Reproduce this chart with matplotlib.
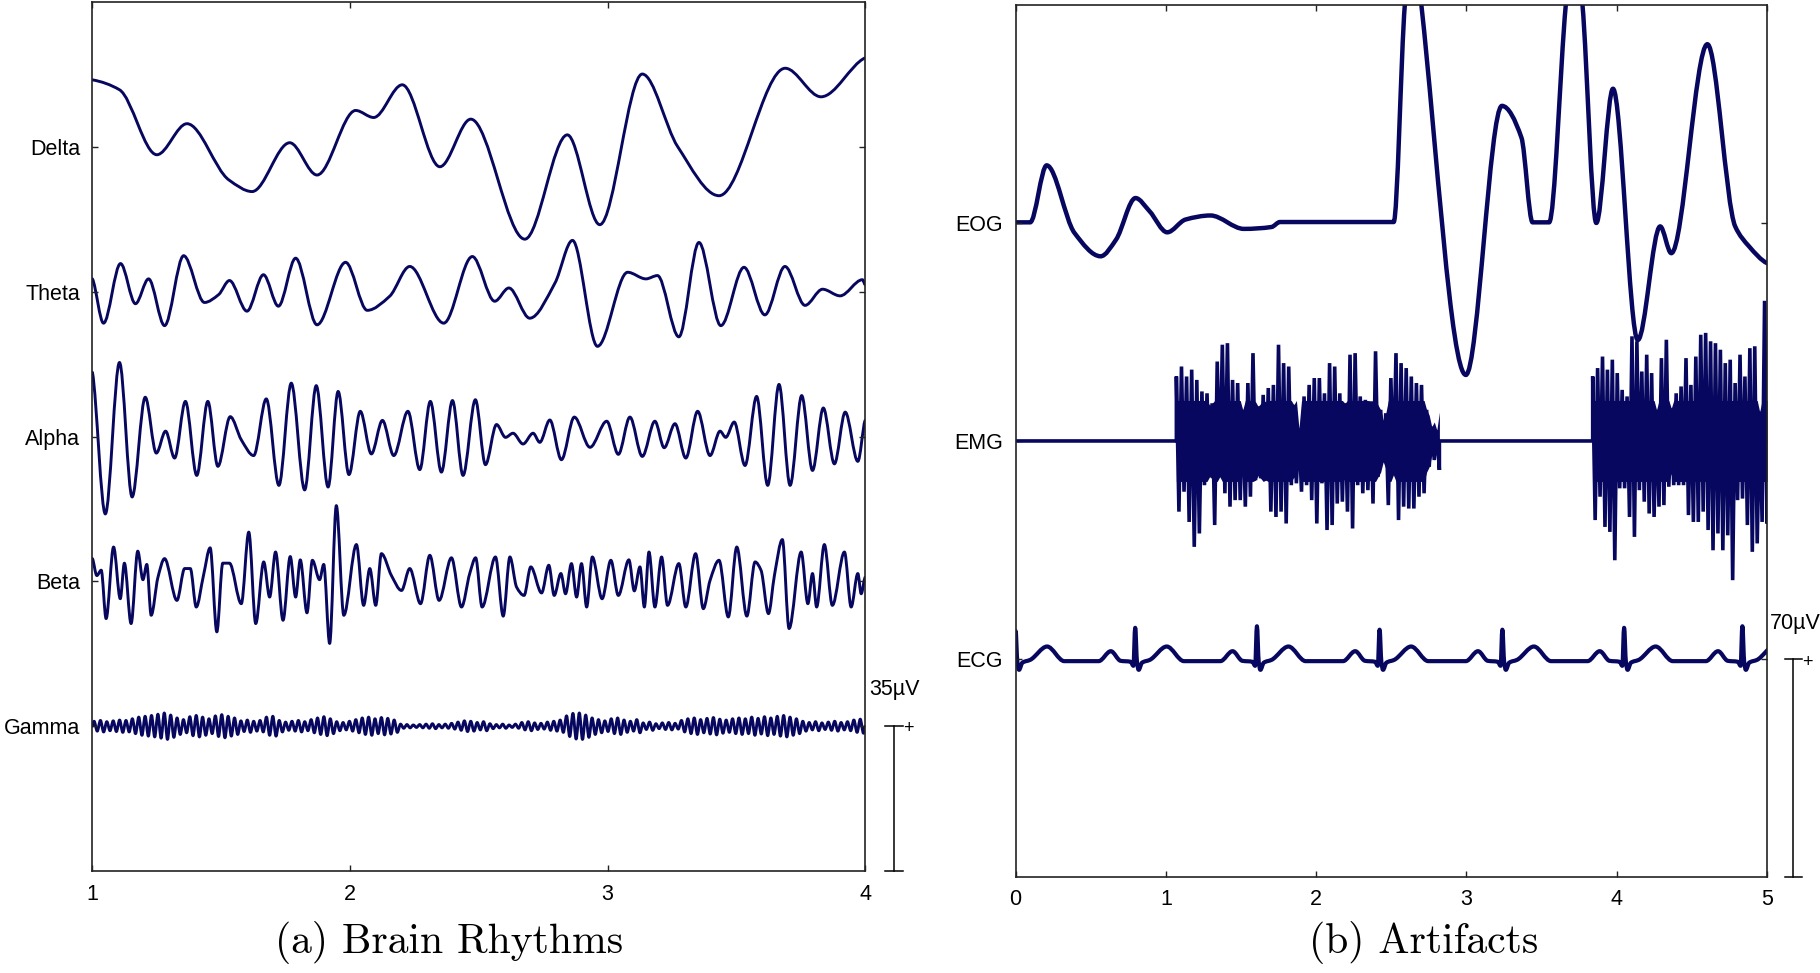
import numpy as np
import matplotlib
matplotlib.use('Agg')
import matplotlib.pyplot as plt
from matplotlib.path import Path
from matplotlib.patches import PathPatch

plt.rcParams['font.family'] = ['Liberation Sans', 'DejaVu Sans']

# ── (a) brain rhythms: turning points (time s, amplitude uV) ──
DELTA_T = [1.0, 1.105, 1.25, 1.367, 1.53, 1.62, 1.766, 1.872, 2.022, 2.092, 2.203,
           2.349, 2.469, 2.679, 2.844, 2.97, 3.135, 3.272, 3.433, 3.69, 3.829, 4.0]
DELTA_UV = [16.2, 13.8, -1.9, 5.6, -8.0, -10.8, 1.0, -6.8, 8.8, 7.1, 15.0,
            -4.8, 6.7, -22.3, 2.9, -18.8, 17.6, 0.1, -11.8, 19.0, 12.1, 21.5]

THETA_T = [1.0, 1.043, 1.109, 1.167, 1.218, 1.28, 1.354, 1.435, 1.49, 1.532,
           1.6, 1.664, 1.722, 1.789, 1.872, 1.983, 2.067, 2.154, 2.232, 2.364,
           2.475, 2.562, 2.617, 2.698, 2.796, 2.864, 2.961, 3.078, 3.149, 3.194,
           3.277, 3.355, 3.44, 3.53, 3.611, 3.689, 3.767, 3.835, 3.903, 3.99, 4.0]
THETA_UV = [3.1, -7.6, 6.8, -2.9, 3.1, -8.2, 8.7, -2.6, -0.7, 2.7,
            -4.7, 4.1, -3.5, 8.1, -8.0, 7.1, -4.5, -1.1, 6.1, -7.6,
            8.5, -2.3, 0.9, -6.4, 2.1, 12.4, -13.2, 4.7, 3.1, 3.9,
            -10.9, 11.9, -8.2, 5.9, -5.6, 6.1, -3.3, 0.6, -1.0, 2.9, 1.7]

ALPHA_T = [1.0, 1.05, 1.105, 1.154, 1.205, 1.248, 1.284, 1.319, 1.361, 1.405,
           1.448, 1.487, 1.535, 1.578, 1.626, 1.675, 1.724, 1.772, 1.824, 1.869,
           1.915, 1.954, 1.996, 2.04, 2.083, 2.126, 2.17, 2.225, 2.271, 2.312,
           2.355, 2.398, 2.439, 2.487, 2.526, 2.569, 2.604, 2.633, 2.672, 2.711,
           2.737, 2.776, 2.821, 2.871, 2.932, 2.997, 3.042, 3.087, 3.135, 3.184,
           3.22, 3.262, 3.304, 3.35, 3.398, 3.437, 3.459, 3.492, 3.534, 3.579,
           3.622, 3.666, 3.709, 3.754, 3.796, 3.838, 3.881, 3.923, 3.972, 4.0]
ALPHA_UV = [15.5, -18.7, 17.9, -14.6, 9.5, -4.0, 1.3, -5.2, 8.5, -9.4,
            8.5, -7.2, 4.8, -0.8, -4.6, 9.1, -11.8, 12.9, -12.9, 12.3,
            -12.2, 10.9, -9.2, 6.1, -4.2, 3.9, -4.6, 6.1, -8.0, 8.5,
            -8.6, 8.7, -9.4, 8.9, -6.8, 2.9, -0.2, 0.8, -1.8, 0.8,
            -1.4, 4.0, -5.6, 4.7, -2.6, 3.7, -4.3, 4.7, -4.8, 3.7,
            -2.7, 3.1, -5.2, 6.1, -4.6, 1.3, -0.2, 3.5, -7.0, 9.7,
            -11.8, 12.6, -11.8, 9.9, -8.2, 6.9, -6.6, 5.9, -6.0, 3.9]

BETA_T = [1.0, 1.017, 1.034, 1.053, 1.082, 1.108, 1.124, 1.15, 1.176, 1.196,
          1.211, 1.228, 1.254, 1.28, 1.328, 1.358, 1.38, 1.403, 1.431, 1.457,
          1.483, 1.506, 1.532, 1.578, 1.607, 1.634, 1.665, 1.688, 1.711, 1.74,
          1.768, 1.789, 1.807, 1.833, 1.854, 1.882, 1.898, 1.921, 1.947, 1.976,
          2.025, 2.053, 2.077, 2.1, 2.122, 2.161, 2.2, 2.232, 2.274, 2.31,
          2.346, 2.394, 2.433, 2.465, 2.488, 2.513, 2.565, 2.595, 2.621, 2.647,
          2.676, 2.702, 2.744, 2.772, 2.793, 2.819, 2.837, 2.86, 2.88, 2.899,
          2.919, 2.941, 2.979, 3.013, 3.042, 3.083, 3.104, 3.126, 3.143, 3.161,
          3.184, 3.21, 3.233, 3.277, 3.304, 3.342, 3.372, 3.398, 3.433, 3.469,
          3.502, 3.541, 3.573, 3.596, 3.625, 3.648, 3.679, 3.705, 3.752, 3.778,
          3.796, 3.812, 3.842, 3.873, 3.92, 3.946, 3.972, 3.985, 4.0]
BETA_UV = [5.5, 1.4, 2.7, -9.0, 8.3, -4.2, 4.4, -10.2, 7.3, 0.4,
           4.1, -8.2, 0.9, 5.5, -4.6, 3.1, 3.1, -6.2, 1.4, 8.1,
           -12.2, 4.4, 4.4, -5.4, 11.9, -10.2, 4.7, -3.8, 7.1, -9.4,
           6.0, -3.8, 5.2, -7.6, 5.1, 0.4, 4.1, -15.0, 18.3, -8.2,
           8.9, -5.8, 3.1, -5.8, 6.7, 1.4, -2.2, 3.1, -5.4, 6.3,
           -4.6, 5.7, -6.2, 1.9, 5.7, -6.2, 5.9, -8.4, 5.9, -1.4,
           -3.4, 3.5, -2.8, 3.9, -3.4, 1.9, -3.0, 4.3, -3.8, 4.3,
           -6.2, 5.9, -4.2, 5.1, -3.4, 5.2, -2.3, 3.5, -6.2, 7.1,
           -6.2, 5.9, -5.8, 4.3, -6.2, 6.7, -6.6, 0.2, 5.1, -8.6,
           8.3, -8.4, 4.7, 2.7, -7.8, 1.4, 10.1, -11.4, 7.1, -5.4,
           1.9, -6.2, 8.9, -5.8, 7.1, -6.2, 1.9, -3.0, 1.0]

# gamma: peak amplitude of each ~40 Hz cycle across 1-4 s
GAMMA_AMP = [1.2, 1.4, 1.1, 1.3, 1.5, 1.4, 1.8, 2.2, 2.4, 2.6, 2.9, 3.2, 2.7,
             2.0, 1.6, 2.3, 2.6, 2.2, 1.8, 2.5, 2.8, 2.4, 2.0, 1.3, 1.5, 1.2,
             1.4, 2.2, 2.4, 1.4, 1.0, 1.2, 1.4, 1.1, 1.6, 2.0, 2.3, 1.8, 1.1,
             0.9, 1.2, 1.6, 2.0, 2.2, 1.8, 2.1, 1.9, 1.5, 0.5, 0.4, 0.3, 0.4,
             0.5, 0.6, 0.4, 0.5, 0.7, 1.0, 1.3, 1.2, 0.9, 1.1, 0.6, 0.4, 0.5,
             0.3, 0.5, 0.9, 1.1, 0.8, 0.7, 1.0, 1.2, 1.5, 2.5, 3.1, 3.2, 2.7,
             2.0, 1.6, 1.3, 1.8, 2.0, 1.5, 1.2, 1.6, 0.8, 1.0, 0.6, 0.8, 0.9,
             0.7, 1.4, 1.8, 2.0, 1.6, 1.9, 2.1, 1.7, 1.5, 1.8, 2.0, 1.8, 2.2,
             1.9, 2.3, 2.0, 2.4, 2.6, 2.2, 1.8, 1.2, 0.9, 1.1, 0.8, 1.0, 1.2,
             0.9, 1.1, 1.5, 1.7]

RHYTHM_NAMES = ['Delta', 'Theta', 'Alpha', 'Beta', 'Gamma']
RHYTHM_SCALE_UV = 35

# ── (b) artifacts ──
EOG_T = [0.0, 0.097, 0.207, 0.392, 0.566, 0.668, 0.798, 0.891, 1.009, 1.131,
         1.297, 1.519, 1.703, 1.759, 2.516, 2.59, 2.646, 2.70, 2.996, 3.236,
         3.366, 3.44, 3.55, 3.661, 3.716, 3.772, 3.864, 3.975, 4.14, 4.289,
         4.363, 4.603, 4.788, 4.88, 5.0]
EOG_UV = [0.2, 0.2, 18.5, -3.2, -10.7, -5.4, 8.0, 3.8, -3.0, 1.1,
          2.4, -1.9, -1.3, 0.3, 0.3, 70, 95, 70, -48.8, 37.6,
          27.4, 0.2, 0.2, 70, 95, 70, 0.0, 43.1, -37.6, -1.1,
          -9.7, 57.4, -1.1, -7.5, -12.9]

EMG_BURSTS = [(1.07, 2.82), (3.84, 5.0)]
EMG_B1_UP = [20.7, 23.9, 20.7, 22.9, 19.6, 15.9, 15.3, 12.1, 25.5, 30.9,
             31.4, 19.6, 18.6, 10.0, 18.6, 28.2, 11.1, 14.8, 17.0, 18.0,
             30.9, 25.0, 23.9, 11.6, 4.0, 14.3, 18.0, 20.2, 20.2, 15.3,
             25.0, 23.9, 15.3, 12.1, 27.7, 28.2, 14.3, 13.2, 12.7, 28.8,
             10.0, 8.9, 20.2, 28.2, 25.0, 23.4, 20.7, 18.6, 18.0, 10.0, 4.6, 3.5]
EMG_B1_DN = [-22.7, -16.3, -26.0, -34.0, -29.7, -14.2, -11.5, -27.0, -11.5, -16.8,
             -21.1, -19.0, -19.0, -21.1, -17.9, -12.6, -12.0, -12.6, -22.7, -24.4,
             -22.7, -26.5, -14.2, -13.6, -16.3, -14.2, -19.0, -26.5, -13.6, -28.6,
             -27.0, -20.1, -19.5, -22.7, -28.1, -14.2, -16.8, -15.8, -20.1, -11.5,
             -6.7, -20.6, -10.9, -25.4, -21.1, -21.7, -21.7, -17.9, -16.8, -8.3, -6.1, -9.3]
EMG_B2_UP = [20.7, 23.4, 27.1, 22.9, 26.1, 21.8, 16.4, 14.3, 33.6, 32.0,
             22.3, 27.7, 21.8, 10.0, 26.6, 32.5, 10.5, 15.3, 17.5, 26.6,
             18.0, 27.1, 34.1, 34.7, 32.0, 31.4, 29.3, 25.0, 26.1, 18.6,
             27.7, 20.7, 29.8, 30.4, 9.4, 45.0]
EMG_B2_DN = [-25.4, -17.9, -27.6, -29.2, -38.3, -15.2, -15.2, -24.4, -30.8, -15.8,
             -19.5, -23.3, -24.4, -21.1, -20.6, -14.7, -14.2, -14.2, -14.2, -23.8,
             -26.0, -26.0, -22.7, -28.6, -35.1, -29.7, -35.1, -30.3, -44.7, -19.0,
             -18.5, -27.0, -35.6, -32.9, -26.0, -26.5]
# the bursts are solid up to about this level; only spikes stick out beyond it
EMG_CORE_UV = 13.0

ECG_R_TIMES = [0.0, 0.796, 1.606, 2.422, 3.239, 4.049, 4.836]
ECG_R_UV = [9.0, 10.0, 10.5, 9.4, 9.4, 10.0, 10.5]
ECG_BEAT_DT = [-0.243, -0.162, -0.097, -0.03, -0.012, 0.0,
               0.012, 0.023, 0.045, 0.097, 0.21, 0.324]
ECG_BEAT_UV = [-0.7, 2.5, -0.6, -0.9, -2.2, 10.0,
               -1.0, -3.5, -1.2, -0.3, 4.0, -0.7]

ARTIFACT_NAMES = ['EOG', 'EMG', 'ECG']
ARTIFACT_SCALE_UV = 70

TRACE_COLOR = '#07075f'


def smooth_path(t, y):
    """Monotone cubic (PCHIP-style) bezier path through the points."""
    t = np.asarray(t, float)
    y = np.asarray(y, float)
    h = np.diff(t)
    s = np.diff(y) / h
    m = np.zeros_like(y)
    for i in range(1, len(y) - 1):
        if s[i - 1] * s[i] > 0:
            w1 = 2 * h[i] + h[i - 1]
            w2 = h[i] + 2 * h[i - 1]
            m[i] = (w1 + w2) / (w1 / s[i - 1] + w2 / s[i])
    m[0], m[-1] = 0.5 * s[0], 0.5 * s[-1]
    verts = [(t[0], y[0])]
    codes = [Path.MOVETO]
    for i in range(len(t) - 1):
        d = h[i] / 3
        verts += [(t[i] + d, y[i] + m[i] * d),
                  (t[i + 1] - d, y[i + 1] - m[i + 1] * d),
                  (t[i + 1], y[i + 1])]
        codes += [Path.CURVE4] * 3
    return Path(verts, codes)


def add_trace(ax, t, y, lw):
    ax.add_patch(PathPatch(smooth_path(t, y), fill=False, edgecolor=TRACE_COLOR,
                           lw=lw, joinstyle='round', capstyle='round'))


def style_axes(ax):
    for sp in ax.spines.values():
        sp.set_color('#222222')
        sp.set_linewidth(1.2)
    ax.tick_params(direction='in', top=True, right=True, length=4,
                   width=1.0, labelsize=15.5, pad=9, color='#222222')


def scale_bar(ax, x, x0, x1, label, lx, ly):
    kw = dict(color='black', lw=1.1, clip_on=False)
    ax.plot([x, x], [0, 1], **kw)
    ax.plot([x0, x1], [1, 1], **kw)
    ax.plot([x0, x1], [0, 0], **kw)
    ax.text(x1 + 0.3 * (x1 - x0), 0.985, '+', fontsize=13, ha='center',
            va='center', clip_on=False)
    ax.text(lx, ly, label, fontsize=15.5, ha='center', va='center', clip_on=False)


fig = plt.figure(figsize=(18.2, 9.73), dpi=100)
ax_a = fig.add_axes([0.0508, 0.1048, 0.4245, 0.8931])
ax_b = fig.add_axes([0.558, 0.0987, 0.4129, 0.8962])

# ── panel (a) ──
n_rh = len(RHYTHM_NAMES)
rhythms = [(DELTA_T, DELTA_UV), (THETA_T, THETA_UV), (ALPHA_T, ALPHA_UV),
           (BETA_T, BETA_UV)]
for k, (t, uv) in enumerate(rhythms):
    base = n_rh - k
    add_trace(ax_a, t, base + np.asarray(uv) / RHYTHM_SCALE_UV, 2.1)

# gamma: one peak and one trough per listed cycle
g_edges = np.linspace(1.0, 4.0, len(GAMMA_AMP) + 1)
g_t, g_v = [1.0], [0.0]
for i, a in enumerate(GAMMA_AMP):
    dt = g_edges[i + 1] - g_edges[i]
    g_t += [g_edges[i] + 0.25 * dt, g_edges[i] + 0.75 * dt]
    g_v += [a, -a]
g_t.append(4.0)
g_v.append(0.0)
add_trace(ax_a, g_t, 1 + np.asarray(g_v) / RHYTHM_SCALE_UV, 2.1)

ax_a.set_xlim(1, 4)
ax_a.set_ylim(0, n_rh + 1)
ax_a.set_xticks([1, 2, 3, 4])
ax_a.set_yticks(list(range(n_rh, 0, -1)))
ax_a.set_yticklabels(RHYTHM_NAMES)
style_axes(ax_a)
scale_bar(ax_a, 4.113, 4.078, 4.148, f'{RHYTHM_SCALE_UV}\u00b5V', 4.113, 1.25)

# ── panel (b) ──
n_ar = len(ARTIFACT_NAMES)
add_trace(ax_b, EOG_T, n_ar + np.asarray(EOG_UV) / ARTIFACT_SCALE_UV, 3.2)

emg_base = n_ar - 1
emg_t, emg_v = [0.0], [0.0]
for (t0, t1), up, dn in zip(EMG_BURSTS, [EMG_B1_UP, EMG_B2_UP], [EMG_B1_DN, EMG_B2_DN]):
    vals = np.array([v for pair in zip(up, dn) for v in pair])
    bt = np.linspace(t0, t1, len(vals))
    emg_t += [t0] + list(bt) + [t1]
    emg_v += [0.0] + list(vals) + [0.0]
    core = np.minimum(np.abs(vals), EMG_CORE_UV) / ARTIFACT_SCALE_UV
    ax_b.fill_between(bt, emg_base - core, emg_base + core,
                      color=TRACE_COLOR, lw=0)
ax_b.plot(emg_t, emg_base + np.asarray(emg_v) / ARTIFACT_SCALE_UV,
          color=TRACE_COLOR, lw=2.6, solid_joinstyle='miter')

ecg_t, ecg_v = [], []
for r_t, r_uv in zip(ECG_R_TIMES, ECG_R_UV):
    for dt, uv in zip(ECG_BEAT_DT, ECG_BEAT_UV):
        ecg_t.append(r_t + dt)
        ecg_v.append(r_uv if dt == 0.0 else uv)
add_trace(ax_b, ecg_t, 1 + np.asarray(ecg_v) / ARTIFACT_SCALE_UV, 3.0)

ax_b.set_xlim(0, 5)
ax_b.set_ylim(0, n_ar + 1)
ax_b.set_xticks(range(6))
ax_b.set_yticks(list(range(n_ar, 0, -1)))
ax_b.set_yticklabels(ARTIFACT_NAMES)
style_axes(ax_b)
scale_bar(ax_b, 5.175, 5.12, 5.235, f'{ARTIFACT_SCALE_UV}\u00b5V', 5.19, 1.163)

# ── captions ──
fig.text(0.247, 0.031, '(a) Brain Rhythms', family='cmr10', fontsize=30,
         ha='center', va='center')
fig.text(0.782, 0.031, '(b) Artifacts', family='cmr10', fontsize=30,
         ha='center', va='center')

fig.savefig('out.png', dpi=100)
